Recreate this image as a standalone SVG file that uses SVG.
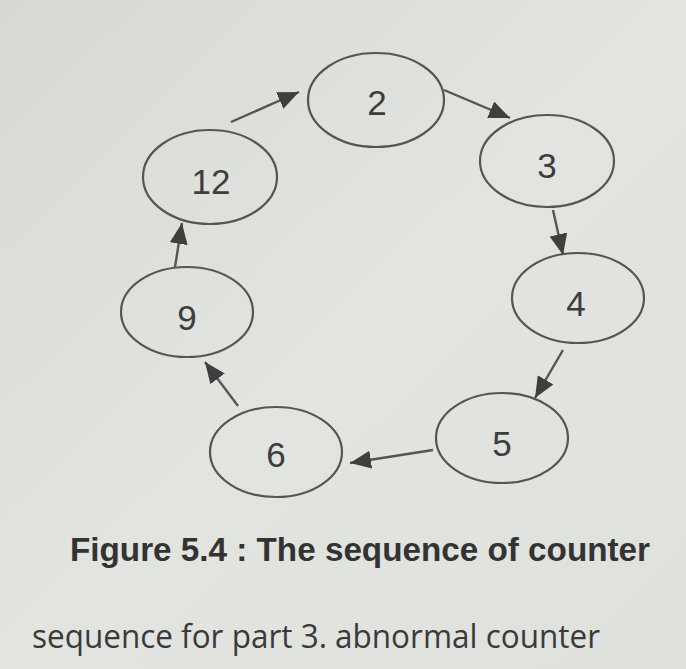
<svg xmlns="http://www.w3.org/2000/svg" width="686" height="669" viewBox="0 0 686 669">
<defs>
<linearGradient id="bg" x1="0" y1="0" x2="1" y2="1">
<stop offset="0" stop-color="#d7d9d5"/>
<stop offset="0.5" stop-color="#e2e4e0"/>
<stop offset="1" stop-color="#dfe1dc"/>
</linearGradient>
<marker id="ah" markerUnits="userSpaceOnUse" markerWidth="24" markerHeight="20" refX="21" refY="9" orient="auto">
<path d="M0,0 L21,9 L0,18 Z" fill="#3f3f3f"/>
</marker>
<style>
.node ellipse{fill:none;stroke:#555;stroke-width:2.2}
.node text{font-family:"Liberation Sans",Arial,sans-serif;font-size:35px;fill:#3d3d3d;text-anchor:middle}
.conn line{stroke:#555;stroke-width:2.4;marker-end:url(#ah)}
.cap{font-family:"Liberation Sans",Arial,sans-serif;font-weight:bold;font-size:33px;fill:#333}
.cap2{font-family:"Open Sans","Noto Sans",sans-serif;font-size:32px;fill:#3a3a3a}
</style>
</defs>
<rect width="686" height="669" fill="url(#bg)"/>
<g id="n2" class="node"><ellipse cx="376" cy="100" rx="68" ry="47"/><text x="377" y="115">2</text></g>
<g id="n3" class="node"><ellipse cx="547" cy="161" rx="67" ry="46"/><text x="547" y="178">3</text></g>
<g id="n4" class="node"><ellipse cx="578" cy="298" rx="66" ry="45"/><text x="576" y="316">4</text></g>
<g id="n5" class="node"><ellipse cx="502" cy="438" rx="66" ry="45"/><text x="502" y="456">5</text></g>
<g id="n6" class="node"><ellipse cx="276" cy="452" rx="66" ry="45"/><text x="276" y="467">6</text></g>
<g id="n9" class="node"><ellipse cx="187" cy="312" rx="66" ry="45"/><text x="187" y="330">9</text></g>
<g id="n12" class="node"><ellipse cx="210" cy="177" rx="67" ry="47"/><text x="211" y="194">12</text></g>
<g id="connectors" class="conn">
<line x1="231" y1="122" x2="299" y2="92"/>
<line x1="444" y1="90" x2="510" y2="118"/>
<line x1="553" y1="210" x2="563" y2="255"/>
<line x1="563" y1="350" x2="535" y2="398"/>
<line x1="433" y1="450" x2="350" y2="463"/>
<line x1="238" y1="406" x2="205" y2="362"/>
<line x1="175" y1="267" x2="182" y2="223"/>
</g>
<text class="cap" x="70" y="561" textLength="580" lengthAdjust="spacingAndGlyphs">Figure 5.4 : The sequence of counter</text>
<text class="cap2" x="32" y="648" textLength="568" lengthAdjust="spacingAndGlyphs">sequence for part 3. abnormal counter</text>
</svg>
